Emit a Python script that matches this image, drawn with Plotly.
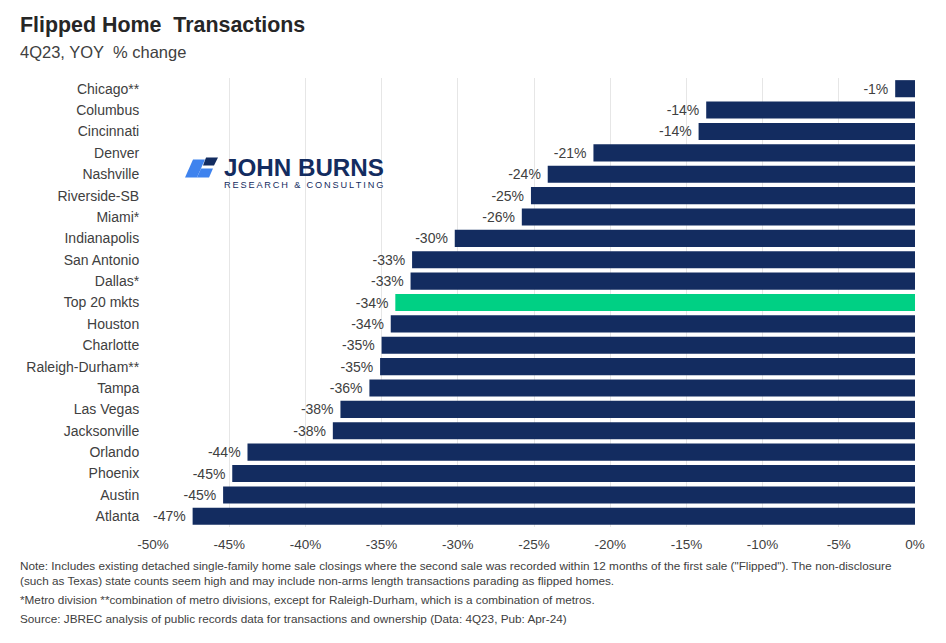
#flipped home transactions, 4Q23 yoy bar chart
import plotly.graph_objects as go

W = 946
H = 643
NAVY = '#132c60'
GREEN = '#00d084'
FONT = 'Liberation Sans'

metros = ['Chicago**', 'Columbus', 'Cincinnati', 'Denver', 'Nashville', 'Riverside-SB', 'Miami*',
          'Indianapolis', 'San Antonio', 'Dallas*', 'Top 20 mkts', 'Houston', 'Charlotte',
          'Raleigh-Durham**', 'Tampa', 'Las Vegas', 'Jacksonville', 'Orlando', 'Phoenix', 'Austin', 'Atlanta']
yoy_change = [-1.3, -13.7, -14.2, -21.1, -24.1, -25.2, -25.8,
              -30.2, -33.0, -33.1, -34.1, -34.4, -35.0,
              -35.1, -35.8, -37.7, -38.2, -43.8, -44.8, -45.4, -47.4]
x_ticks = [-50, -45, -40, -35, -30, -25, -20, -15, -10, -5, 0]
x_tick_labels = ['-50%', '-45%', '-40%', '-35%', '-30%', '-25%', '-20%', '-15%', '-10%', '-5%', '0%']

title = 'Flipped Home  Transactions'
subtitle = '4Q23, YOY  % change'
notes = [
    ('Note: Includes existing detached single-family home sale closings where the second sale was recorded within 12 months of the first sale ("Flipped"). The non-disclosure', 566),
    ('(such as Texas) state counts seem high and may include non-arms length transactions parading as flipped homes.', 581),
    ('*Metro division **combination of metro divisions, except for Raleigh-Durham, which is a combination of metros.', 600),
    ('Source: JBREC analysis of public records data for transactions and ownership (Data: 4Q23, Pub: Apr-24)', 619),
]

colors = [GREEN if m == 'Top 20 mkts' else NAVY for m in metros]

fig = go.Figure(go.Bar(
    x=yoy_change, y=metros, orientation='h',
    marker=dict(color=colors, line=dict(width=0)),
    text=yoy_change, texttemplate='%{x:.0f}%\u00a0', textposition='outside',
    textfont=dict(family=FONT, size=14, color='#404040'),
    cliponaxis=False,
))

L, R, T, B = 153, 915, 77.5, 527


def px(x):
    return (x - L) / (R - L)


def py(y):
    return (B - y) / (B - T)


def add_text(x, y, txt, size, color='#404040', bold=False):
    if bold:
        txt = '<b>' + txt + '</b>'
    fig.add_annotation(x=px(x), y=py(y), xref='paper', yref='paper', text=txt, showarrow=False,
                       xanchor='left', yanchor='middle', align='left', xshift=-2,
                       font=dict(family=FONT, size=size, color=color))


add_text(20, 24, title, 21.4, '#262626', True)
add_text(20, 51, subtitle, 16.5)
for line, y in notes:
    add_text(20, y, line, 11.75)

# logo
add_text(224, 167, 'JOHN BURNS', 24.2, NAVY, True)
add_text(224, 184.5, '\u2009'.join('RESEARCH & CONSULTING').replace('&', '&amp;'), 9.2, NAVY)
for pts, c in [
    ([(193, 159), (205, 159), (197, 177), (185, 177)], '#3f83ee'),
    ([(206, 157), (218, 157), (214, 165), (203, 165)], NAVY),
    ([(201, 168), (213, 168), (209, 177), (197, 177)], '#3f83ee'),
]:
    path = 'M ' + ' L '.join(f'{px(a):.4f} {py(b):.4f}' for a, b in pts) + ' Z'
    fig.add_shape(type='path', path=path, xref='paper', yref='paper', fillcolor=c, line=dict(width=0))

fig.update_layout(
    width=W, height=H, autosize=False,
    margin=dict(l=L, r=W - R, t=T, b=H - B, pad=0),
    paper_bgcolor='white', plot_bgcolor='white',
    bargap=0.2, showlegend=False,
    font=dict(family=FONT, size=12, color='#404040'),
)
fig.update_xaxes(range=[-50, 0], tickmode='array', tickvals=x_ticks, ticktext=x_tick_labels,
                 showgrid=True, gridcolor='#e6e6e6', gridwidth=1, zeroline=False, showline=False,
                 ticks='outside', ticklen=5, tickcolor='white', tickfont=dict(size=13.5, color='#404040'))
fig.update_yaxes(autorange='reversed', showgrid=False, zeroline=False, showline=False,
                 ticks='outside', ticklen=10, tickcolor='white', tickfont=dict(size=14, color='#404040'))

# page has 8px body margin by default
fig.write_html("out.html", config={'displayModeBar': False}, post_script="document.body.style.margin='0';")
